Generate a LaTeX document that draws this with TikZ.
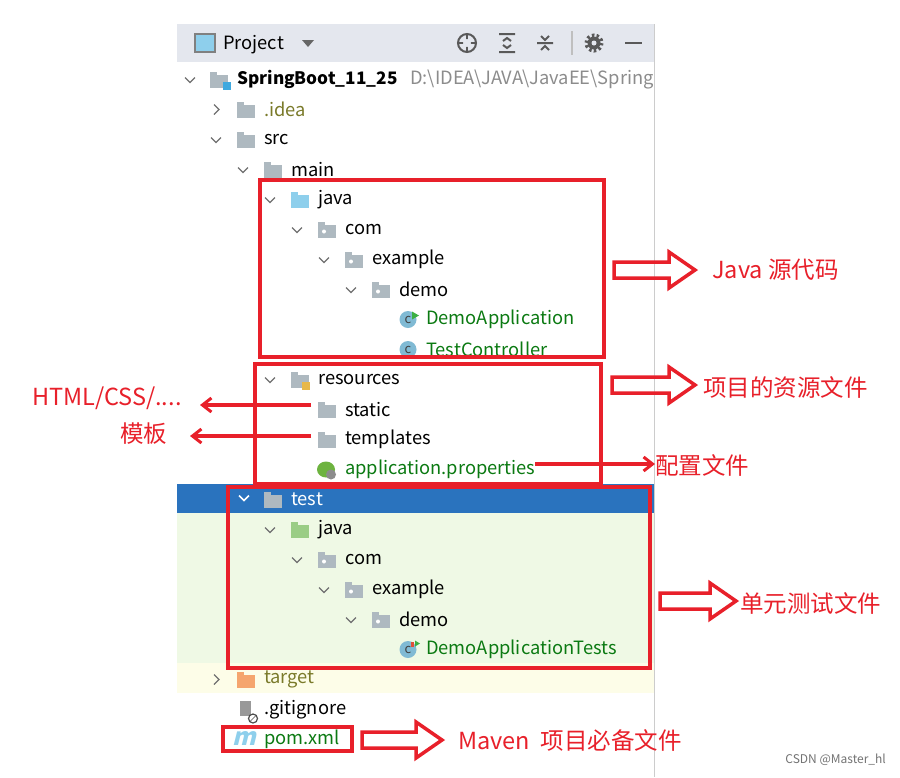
\documentclass[tikz,border=0pt]{standalone}
\usepackage{fontspec}
\setmainfont{Noto Sans CJK SC}
\usetikzlibrary{arrows.meta}
\definecolor{rd}{HTML}{E8202A}
\definecolor{gtext}{HTML}{0B7A12}
\definecolor{fgray}{HTML}{AEB9C0}
\definecolor{fblue}{HTML}{8ECFEC}
\definecolor{fgreen}{HTML}{9ACD85}
\definecolor{forange}{HTML}{F5A56E}
\definecolor{chev}{HTML}{707070}
\definecolor{tbar}{HTML}{E4E7EE}
\definecolor{selb}{HTML}{2A73BE}
\definecolor{lgreen}{HTML}{EFF9E5}
\definecolor{lyel}{HTML}{FDFDE8}
\definecolor{olive}{HTML}{7A7A2A}
\definecolor{rootblue}{HTML}{3FA9DF}
\definecolor{resyel}{HTML}{E8B84A}
\definecolor{runG}{HTML}{3CB043}
\definecolor{runR}{HTML}{E0503A}
\definecolor{leaf}{HTML}{6DB33F}
\newcommand\fold[3]{\begin{scope}[shift={(#1,#2)}]\fill[#3] (-9,-5) rectangle (9,8);\fill[#3] (-9,-8) rectangle (-2,-4);\end{scope}}
\newcommand\pkg[2]{\fold{#1}{#2}{fgray}\fill[white] (#1-3,#2+2) circle (2);}
\newcommand\chd[2]{\draw[chev,line width=1.3] (#1-5,#2-2)--(#1,#2+3)--(#1+5,#2-2);}
\newcommand\chr[2]{\draw[chev,line width=1.3] (#1-2,#2-5)--(#1+3,#2)--(#1-2,#2+5);}
\newcommand\cls[2]{\fill[fblue!90!black] (#1,#2) circle (8.5);\node[font=\fontsize{13}{13}\selectfont,text=black!75] at (#1,#2) {c};}
\newcommand\barrow[3]{\draw[rd,line width=3.5,line join=miter] (#1,#3-8)--(#2-26,#3-8)--(#2-26,#3-18)--(#2,#3)--(#2-26,#3+18)--(#2-26,#3+8)--(#1,#3+8)--cycle;}
\tikzset{tx/.style={anchor=west,inner sep=0,font=\fontsize{18.3}{20}\selectfont},
 gt/.style={tx,text=gtext},
 lab/.style={anchor=west,inner sep=0,text=rd,font=\fontsize{23.5}{24}\selectfont},
 rbox/.style={draw=rd,line width=4},
 larr/.style={rd,line width=3.5,-{Straight Barb[length=9,width=14,line width=3]}}}
\begin{document}
\begin{tikzpicture}[x=1pt,y=-1pt]
\useasboundingbox (0,0) rectangle (900,777);
\fill[white] (0,0) rectangle (900,777);
% panel
\fill[tbar] (177,24) rectangle (654,62);
\fill[selb] (177,484) rectangle (654,513);
\fill[lgreen] (177,513) rectangle (654,663);
\fill[lyel] (177,663) rectangle (654,693);
\draw[black!20] (654,24)--(654,777);
% toolbar
\fill[fblue] (196,35) rectangle (214,51);\draw[black!50,line width=1.5] (195,34) rectangle (215,52);
\node[tx] (proj) at (223,44.5) {Project};
\fill[black!60] (302,40)--(314,40)--(308,47)--cycle;
\draw[black!65,line width=2] (467,43) circle (9);\draw[black!65,line width=2] (467,33)--(467,53) (457,43)--(477,43);\fill[tbar] (467,43) circle (4);
\draw[black!65,line width=2] (499,34)--(515,34) (499,52)--(515,52) (503,41)--(507,38)--(511,41) (503,45)--(507,48)--(511,45);
\draw[black!65,line width=2] (537,43)--(553,43) (541,36)--(545,40)--(549,36) (541,50)--(545,46)--(549,50);
\draw[black!25,line width=1.5] (572,31)--(572,55);
\draw[black!65,line width=5,dash pattern=on 2.2 off 2.2] (594,43) circle (7);\fill[black!65] (594,43) circle (6.5);\fill[tbar] (594,43) circle (2.5);
\draw[black!65,line width=2] (625,43)--(642,43);
\begin{scope}[yshift=-1.5pt]
% rows
\chd{190}{78}\fold{219}{78}{fgray}\fill[rootblue] (223,80) rectangle (231,88);
\node[tx,font=\fontsize{17.2}{20}\selectfont\bfseries] (root) at (237,78) {SpringBoot\_11\_25};
\node[tx,text=black!45] (path) at (410,78) {D:\textbackslash IDEA\textbackslash JAVA\textbackslash JavaEE\textbackslash Spring};
\chr{216}{108}\fold{246}{108}{fgray}\node[tx,text=olive] (idea) at (264,108) {.idea};
\chd{216}{138}\fold{246}{138}{fgray}\node[tx] (src) at (264,138) {src};
\chd{243}{168}\fold{273}{168}{fgray}\node[tx] (main) at (291,168) {main};
\chd{270}{198}\fold{300}{198}{fblue}\node[tx] (java1) at (318,198) {java};
\chd{297}{228}\pkg{327}{228}\node[tx] (com1) at (345,228) {com};
\chd{324}{258}\pkg{354}{258}\node[tx] (ex1) at (372,258) {example};
\chd{351}{288}\pkg{381}{288}\node[tx] (demo1) at (399,288) {demo};
\cls{408}{318}\fill[runG] (412,310)--(419,314)--(412,318)--cycle;\node[gt] (da) at (426,318) {DemoApplication};
\cls{408}{348}\node[gt] (tc) at (426,348) {TestController};
\chd{270}{378}\fold{300}{378}{fgray}\fill[resyel] (302,380) rectangle (310,388);\node[tx] (res) at (318,378) {resources};
\fold{327}{408}{fgray}\node[tx] (stat) at (345,408) {static};
\fold{327}{438}{fgray}\node[tx] (tmpl) at (345,438) {templates};
\fill[leaf] (326,468) ellipse (9 and 8);\fill[black!45] (331,473) circle (5);\node[gt] (app) at (345,468) {application.properties};
\draw[white,line width=1.5] (239,494)--(244,499)--(249,494);\fold{273}{498}{fgray}\node[tx,text=white] (test) at (291,498) {test};
\chd{270}{528}\fold{300}{528}{fgreen}\node[tx] (java2) at (318,528) {java};
\chd{297}{558}\pkg{327}{558}\node[tx] (com2) at (345,558) {com};
\chd{324}{588}\pkg{354}{588}\node[tx] (ex2) at (372,588) {example};
\chd{351}{618}\pkg{381}{618}\node[tx] (demo2) at (399,618) {demo};
\cls{408}{648}\fill[runR] (411,640) rectangle (414,645);\fill[runG] (415,639)--(420,642)--(415,645)--cycle;\node[gt] (dat) at (426,648) {DemoApplicationTests};
\chr{216}{678}\fold{246}{678}{forange}\node[tx,text=olive] (tgt) at (264,678) {target};
\fill[black!40] (240,699) rectangle (251,714);\draw[black!70,line width=1.2] (253,717) circle (4.5);\draw[black!70] (250,720)--(256,714);
\node[tx] (git) at (264,708) {.gitignore};
\node[anchor=west,inner sep=0,text=fblue,font=\fontsize{24}{24}\selectfont\bfseries,xslant=0.25] (micon) at (234,737) {m};
\node[gt] (pom) at (264,738) {pom.xml};
\end{scope}
% red boxes
\draw[rbox] (260,180) rectangle (604,357);
\draw[rbox] (255,364) rectangle (601,484);
\draw[rbox] (228,487) rectangle (650,668);
\draw[rbox] (223,727) rectangle (352,751);
% block arrows and labels
\barrow{614}{695}{270}\node[lab] (l1) at (712,270) {Java 源代码};
\barrow{612}{695}{385}\node[lab] (l2) at (703,388) {项目的资源文件};
\barrow{660}{736}{601}\node[lab] (l3) at (740,603) {单元测试文件};
\barrow{362}{442}{740}\node[lab] (l4) at (458,740) {Maven\ \ 项目必备文件};
% line arrows
\node[lab] (html) at (32,398) {HTML/CSS/....};
\node[lab] (mb) at (120,434) {模板};
\node[lab] (pz) at (655,465) {配置文件};
\coordinate (sa) at (311,405);\coordinate (ta) at (311,436);
\coordinate (pa) at (535,464);
\draw[larr] (sa) -- (200,405);
\draw[larr] (ta) -- (190,436);
\draw[larr] (pa) -- (pz.west |- pa);
\node[anchor=east,inner sep=0,text=black!55,font=\fontsize{12}{12}\selectfont] (wm) at (886,760) {CSDN @Master\_hl};
\end{tikzpicture}
\end{document}
